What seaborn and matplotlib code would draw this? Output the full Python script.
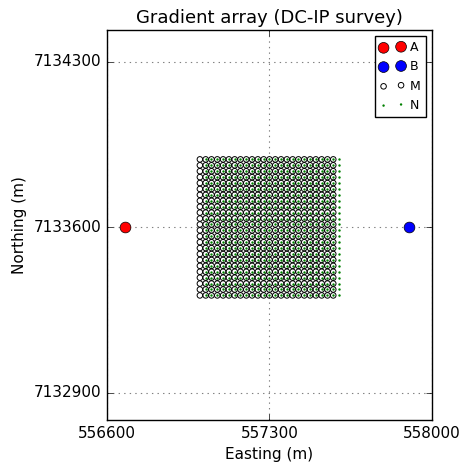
import numpy as np
import pandas as pd
import matplotlib
matplotlib.use("Agg")
import matplotlib.pyplot as plt
import seaborn as sns

# electrode positions
a_pos = [556675, 7133600]
b_pos = [557900, 7133600]
m_east = [557000, 557025, 557050, 557075, 557100, 557125, 557150, 557175,
          557200, 557225, 557250, 557275, 557300, 557325, 557350, 557375,
          557400, 557425, 557450, 557475, 557500, 557525, 557550, 557575]
n_east = [557025, 557050, 557075, 557100, 557125, 557150, 557175, 557200,
          557225, 557250, 557275, 557300, 557325, 557350, 557375, 557400,
          557425, 557450, 557475, 557500, 557525, 557550, 557575, 557600]
north = [7133312.5, 7133337.5, 7133362.5, 7133387.5, 7133412.5, 7133437.5,
         7133462.5, 7133487.5, 7133512.5, 7133537.5, 7133562.5, 7133587.5,
         7133612.5, 7133637.5, 7133662.5, 7133687.5, 7133712.5, 7133737.5,
         7133762.5, 7133787.5, 7133812.5, 7133837.5, 7133862.5, 7133887.5]
x_ticks = [556600, 557300, 558000]
y_ticks = [7132900, 7133600, 7134300]

mx, my = np.meshgrid(m_east, north)
nx, ny = np.meshgrid(n_east, north)
m_df = pd.DataFrame({"x": mx.ravel(), "y": my.ravel()})
n_df = pd.DataFrame({"x": nx.ravel(), "y": ny.ravel()})

plt.style.use("classic")
fig = plt.figure(figsize=(4.74, 4.74), dpi=100, facecolor="white")
ax = fig.add_axes([0.226, 0.114, 0.685, 0.823])

sns.scatterplot(x=[a_pos[0]], y=[a_pos[1]], ax=ax, color="red", s=60,
                edgecolor="black", linewidth=0.5, label="A", zorder=3)
sns.scatterplot(x=[b_pos[0]], y=[b_pos[1]], ax=ax, color="blue", s=60,
                edgecolor="black", linewidth=0.5, label="B", zorder=3)
sns.scatterplot(data=m_df, x="x", y="y", ax=ax, facecolor="none",
                edgecolor="black", s=16, linewidth=0.7, label="M", zorder=3)
sns.scatterplot(data=n_df, x="x", y="y", ax=ax, color="green", s=3,
                linewidth=0, label="N", zorder=4)

ax.set_xlim(556600, 558000)
ax.set_ylim(7132786, 7134435)
ax.set_xticks(x_ticks)
ax.set_yticks(y_ticks)
ax.ticklabel_format(useOffset=False, style="plain")
ax.grid(True, color="gray", linestyle=":", linewidth=0.8)
ax.set_axisbelow(True)
ax.set_xlabel("Easting (m)", fontsize=11)
ax.set_ylabel("Northing (m)", fontsize=11)
ax.set_title("Gradient array (DC-IP survey)", fontsize=13)
ax.tick_params(labelsize=11)
ax.legend(loc="upper right", scatterpoints=2, fontsize=9, borderpad=0.4,
          handletextpad=0.4, labelspacing=0.5)

fig.savefig("out.png", dpi=100, facecolor="white")
